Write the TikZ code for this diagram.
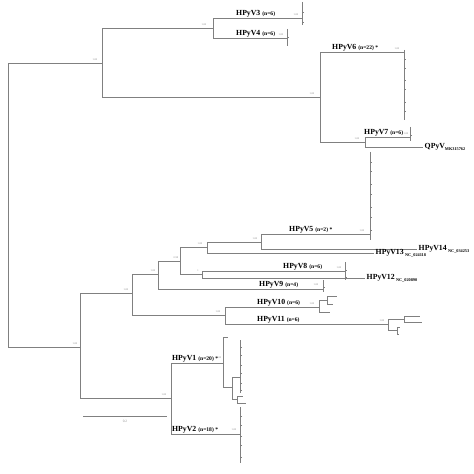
\documentclass[tikz,border=0pt]{standalone}
\usepackage{fontspec}
\setmainfont{Liberation Serif}
\usepackage{xcolor}
\usepackage{tikz}
\usetikzlibrary{calc}
\newcommand{\nsz}[1]{{\fontsize{5.6}{6}\selectfont #1}}
\newcommand{\acc}[1]{\raisebox{-1.8bp}{\fontsize{4.3}{5}\selectfont #1}}

\begin{document}
\begin{tikzpicture}[x=1bp,y=-1bp,
  br/.style={black!50,line width=0.7bp},
  tk/.style={black!50,line width=0.3bp},
  lab/.style={font=\fontsize{7.8}{8}\selectfont\bfseries,inner sep=0pt,anchor=base west},
  sid/.style={font=\fontsize{7.8}{8}\selectfont\bfseries,inner sep=0pt,anchor=west},
  bs/.style={font=\fontsize{2.6}{3}\selectfont,text=black!45,inner sep=0pt}]
  \useasboundingbox[fill=white] (0,0) rectangle (474,474);
  % inner nodes
  \coordinate (root) at (8,205);
  \coordinate (nA) at (102,63);
  \coordinate (nB) at (213,28);
  \coordinate (nC) at (320,97);
  \coordinate (nD) at (365,142);
  \coordinate (nE) at (80,347);
  \coordinate (nF) at (132,293);
  \coordinate (nG) at (158,274);
  \coordinate (nH) at (180,261);
  \coordinate (nI) at (207,247);
  \coordinate (nJ) at (261,242);
  \coordinate (nK) at (202,274);
  \coordinate (nL) at (225,315);
  \coordinate (nM) at (171,398);
  \coordinate (n10) at (319,307);
  \coordinate (n10a) at (327,300);
  \coordinate (n11) at (388,324);
  \coordinate (n11a) at (404,319);
  \coordinate (n11b) at (397,330);
  \coordinate (n1) at (223,363);
  \coordinate (n1b) at (232,387);
  \coordinate (n1c) at (240,377);
  \coordinate (n1d) at (237,399);
  \coordinate (n2) at (240,434);
  % tips
  \coordinate (t3) at (302,18);
  \coordinate (t4) at (287,38);
  \coordinate (t6) at (404,52);
  \coordinate (t7) at (410,137);
  \coordinate (tq) at (423,147);
  \coordinate (t5) at (370,234);
  \coordinate (t14) at (417,249);
  \coordinate (t13) at (374,253);
  \coordinate (t8) at (345,271);
  \coordinate (t12) at (365,278);
  \coordinate (t9) at (323,289);
  \coordinate (t10a) at (337,296);
  \coordinate (t10b) at (333,304);
  \coordinate (t10c) at (330,312);
  \coordinate (t11a) at (420,316);
  \coordinate (t11b) at (422,322);
  \coordinate (t11c) at (400,327);
  \coordinate (t11d) at (399,334);
  \coordinate (t1a) at (228,337);
  \coordinate (t1b) at (243,396);
  \coordinate (t1c) at (246,403);

  % branches
  \foreach \p/\c in {root/nA, root/nE, nA/nB, nA/nC, nB/t3, nB/t4, nC/t6, nC/nD,
      nD/t7, nD/tq, nE/nF, nE/nM, nF/nG, nF/nL, nG/nH, nG/t9, nH/nI, nH/nK,
      nI/nJ, nI/t13, nJ/t5, nJ/t14, nK/t8, nK/t12, nL/n10, nL/n11,
      n10/n10a, n10/t10c, n10a/t10a, n10a/t10b, n11/n11a, n11/n11b,
      n11a/t11a, n11a/t11b, n11b/t11c, n11b/t11d,
      nM/n1, nM/n2, n1/t1a, n1/n1b, n1b/n1c, n1b/n1d, n1d/t1b, n1d/t1c}
    \draw[br] (\p) |- (\c);

  % collapsed clades
  \foreach \x/\a/\b/\n in {302/2/25/6, 287/29/46/5, 404/50/120/22, 410/127/141/4,
      370/152/240/26, 345/262/280/6, 323/280/292/4, 240/340/393/20, 240/407/463/18}{
    \draw[br] (\x,\a) -- (\x,\b);
    \foreach \k in {1,...,\n}{
      \pgfmathsetmacro\yy{\a+(\b-\a)*\k/(\n+1)}
      \pgfmathsetmacro\ll{0.3+mod(\k*37,7)*0.25}
      \draw[tk] (\x,\yy) -- ++(\ll,0);
    }
  }

  % labels
  \node[lab] (l3) at (236,15.5) {HPyV3 \nsz{(n=6)}};
  \node[lab] (l4) at (236,35.5) {HPyV4 \nsz{(n=6)}};
  \node[lab] (l6) at (332,49.5) {HPyV6 \nsz{(n=22) *}};
  \node[lab] (l7) at (364,134.5) {HPyV7 \nsz{(n=6)}};
  \node[sid] (lq) at (424.5,147) {QPyV\acc{MK315762}};
  \node[lab] (l5) at (289,231.5) {HPyV5 \nsz{(n=2) *}};
  \node[sid] (l14) at (418.5,249) {HPyV14\,\acc{NC\_034253}};
  \node[sid] (l13) at (375.5,253.5) {HPyV13\,\acc{NC\_024118}};
  \node[lab] (l8) at (283,268.5) {HPyV8 \nsz{(n=6)}};
  \node[sid] (l12) at (366.5,278) {HPyV12\,\acc{NC\_020890}};
  \node[lab] (l9) at (259,286.5) {HPyV9 \nsz{(n=4)}};
  \node[lab] (l10) at (257,304.5) {HPyV10 \nsz{(n=6)}};
  \node[lab] (l11) at (257,321.5) {HPyV11 \nsz{(n=6)}};
  \node[lab] (l1) at (172,360.5) {HPyV1 \nsz{(n=20) *}};
  \node[lab] (l2) at (172,431.5) {HPyV2 \nsz{(n=18) *}};

  % support values
  \foreach \i/\x/\y/\v in {1/95/60/1.00, 2/204/25/1.00, 3/296/15/1.00, 4/281/35/1.00,
      5/312/94/1.00, 6/397/49/1.00, 7/357/139/1.00, 8/406/134/1.00,
      9/75/344/1.00, 10/126/290/1.00, 11/153/271/1.00, 12/176/258/0.98,
      13/200/244/1.00, 14/198/271/1, 15/255/239/1.00, 16/362/231/1.00,
      17/339/268/1.00, 18/316/285/1.00, 19/218/312/1.00, 20/312/304/1.00,
      21/382/321/1.00, 22/164/395/1.00, 23/219/358/1.00, 24/234/430/1.00}
    \node[bs] (bs\i) at (\x,\y) {\v};

  % scale
  \coordinate (sb1) at (83,416);
  \coordinate (sb2) at (167,416);
  \draw[br,line width=0.5bp] (sb1) -- (sb2);
  \node[bs,font=\fontsize{3.5}{4}\selectfont] (sbl) at (125,421.5) {0.2};
\end{tikzpicture}
\end{document}
